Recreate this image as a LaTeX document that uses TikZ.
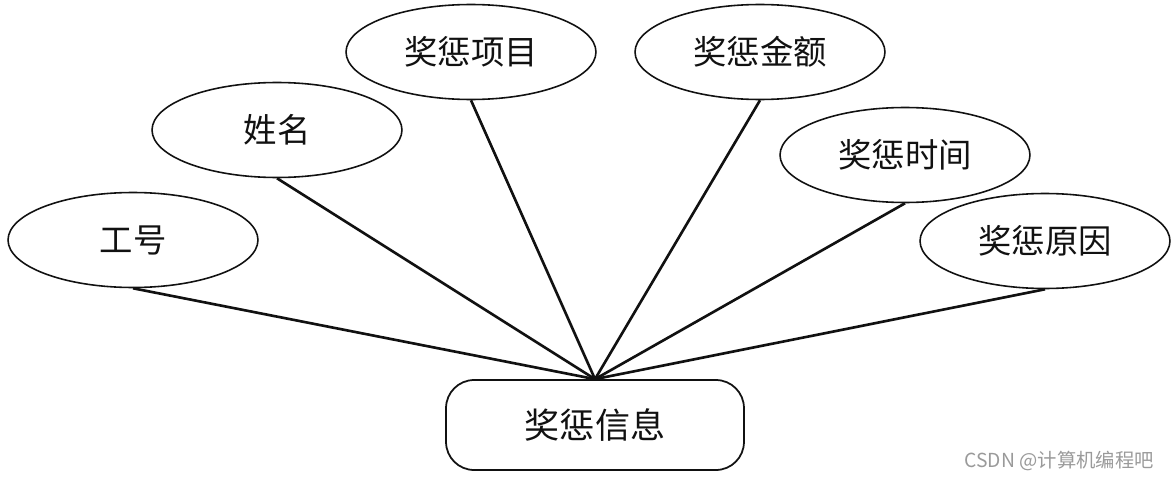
\documentclass[tikz,border=0pt]{standalone}
\usepackage{fontspec}
\setmainfont{Noto Sans CJK SC}
\usetikzlibrary{shapes.geometric}
\definecolor{ink}{HTML}{111111}
\definecolor{mark}{HTML}{9A9A9A}

\begin{document}
\begin{tikzpicture}[
  x=0.02cm, y=-0.02cm,
  text=ink,
  attr/.style={draw=ink, ellipse, line width=.9pt, minimum width=5cm,
    minimum height=1.9cm, inner sep=0pt, font=\fontsize{19}{22}\selectfont},
  entity/.style={draw=ink, rounded corners=16pt, line width=1pt,
    minimum width=5.96cm, minimum height=1.8cm, font=\fontsize{20}{24}\selectfont},
  link/.style={draw=ink, line width=1.5pt}
]
  \useasboundingbox (0,0) rectangle (1174,480);
  \node[entity] (info) at (595,425) {奖惩信息};
  \node[attr] (gonghao) at (133,240) {工号};
  \node[attr] (xingming) at (277,130) {姓名};
  \node[attr] (xiangmu) at (471,52) {奖惩项目};
  \node[attr] (jine) at (760,52) {奖惩金额};
  \node[attr] (shijian) at (905,155) {奖惩时间};
  \node[attr] (yuanyin) at (1045,241) {奖惩原因};
  \foreach \a in {gonghao,xingming,xiangmu,jine,shijian,yuanyin}
    \draw[link] (\a.south) -- (info.north);
  \node[anchor=east, text=mark, font=\fontsize{11}{13}\selectfont] (wm) at (1160,461) {CSDN @计算机编程吧};
\end{tikzpicture}
\end{document}
